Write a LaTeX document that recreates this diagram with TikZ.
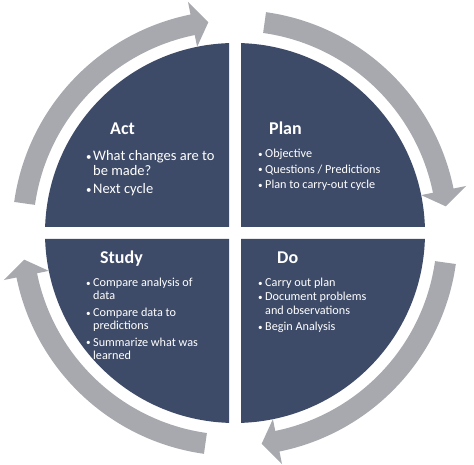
\documentclass[tikz,border=0pt]{standalone}
\usepackage{fontspec}
\setmainfont{Carlito}
\definecolor{quadnavy}{RGB}{62,75,104}
\definecolor{arrowgray}{RGB}{167,169,174}
\newcommand{\bulitem}{\makebox[7pt][l]{\raisebox{0.1ex}{\scalebox{0.75}{\textbullet}}}}
\newcommand{\bulcont}{\hspace*{7pt}}
\begin{document}
\begin{tikzpicture}[x=1pt,y=1pt,
  quad/.style={fill=quadnavy},
  cyclearrow/.style={fill=arrowgray},
  titletext/.style={anchor=base west,inner sep=0pt,text=white,font=\fontsize{18}{21}\selectfont\bfseries},
  listtext/.style={anchor=base west,inner sep=0pt,text=white}]
\useasboundingbox (0,0) rectangle (474,465);
\begin{scope}[shift={(235,232)}]
  % quadrants and arrows
  \foreach \r in {0,-90,-180,-270}{
    \begin{scope}[rotate=\r]
      \fill[quad] (91.81:190pt) arc[start angle=91.81,end angle=178.19,radius=190pt] -- (-6pt,6pt) -- cycle;
      \fill[cyclearrow] (172:223pt) arc[start angle=172,end angle=101.5,radius=223pt]
        -- (101.5:236pt) -- (97.2:212.5pt) -- (101.5:190pt) -- (101.5:202pt)
        arc[start angle=101.5,end angle=172,radius=202pt] -- cycle;
    \end{scope}
  }
\end{scope}
% titles
\node[titletext] (acttitle) at (110,330) {Act};
\node[titletext] (plantitle) at (269,330) {Plan};
\node[titletext] (studytitle) at (100,201) {Study};
\node[titletext] (dotitle) at (277,201) {Do};
% lists
\node[listtext,font=\fontsize{14.5}{15}\selectfont] (actlist) at (86,304) {%
  \begin{tabular}[t]{@{}l@{}}
  \bulitem What changes are to\\
  \bulcont be made?\\[3pt]
  \bulitem Next cycle
  \end{tabular}};
\node[listtext,font=\fontsize{12.2}{15.5}\selectfont] (planlist) at (258,307) {%
  \begin{tabular}[t]{@{}l@{}}
  \bulitem Objective\\
  \bulitem Questions / Predictions\\
  \bulitem Plan to carry-out cycle
  \end{tabular}};
\node[listtext,font=\fontsize{12.2}{13}\selectfont] (studylist) at (86,178) {%
  \begin{tabular}[t]{@{}l@{}}
  \bulitem Compare analysis of\\
  \bulcont data\\[4pt]
  \bulitem Compare data to\\
  \bulcont predictions\\[3.5pt]
  \bulitem Summarize what was\\
  \bulcont learned
  \end{tabular}};
\node[listtext,font=\fontsize{12.2}{14}\selectfont] (dolist) at (258,178) {%
  \begin{tabular}[t]{@{}l@{}}
  \bulitem Carry out plan\\
  \bulitem Document problems\\
  \bulcont and observations\\[2pt]
  \bulitem Begin Analysis
  \end{tabular}};
\end{tikzpicture}
\end{document}
